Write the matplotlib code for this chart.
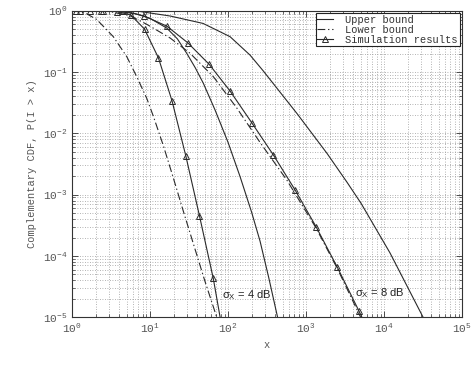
import numpy as np
import matplotlib
matplotlib.use("Agg")
import matplotlib.pyplot as plt
from matplotlib.lines import Line2D

# ---- data ----
# sigma_X = 4 dB
sim4_x = [1.12, 1.68, 2.52, 3.78, 5.67, 8.5, 12.8, 19.1, 28.7, 43.0, 64.6, 96.9]
sim4_y = [1.0, 1.0, 1.0, 0.97, 0.85, 0.50, 0.17, 0.034, 0.0043, 4.5e-4, 4.3e-5, 2.3e-6]
low4_x = [1.0, 1.47, 2.07, 3.38, 5.03, 6.75, 9.07, 11.0, 14.8, 19.9, 26.9, 35.9, 50.1, 71.6]
low4_y = [1.0, 0.92, 0.72, 0.377, 0.178, 0.0838, 0.0372, 0.0191, 6.3e-3, 1.86e-3,
          5.2e-4, 1.58e-4, 4.0e-5, 1.0e-5]
up4_x = [1.0, 3.56, 6.4, 10.0, 16.4, 22.4, 29.5, 38.0, 48.2, 68.1, 100.0, 142.6, 200.0,
         257.0, 331.0, 431.0]
up4_y = [1.0, 0.98, 0.9, 0.75, 0.52, 0.347, 0.202, 0.117, 0.0654, 0.024, 7.1e-3,
         1.96e-3, 5.2e-4, 1.74e-4, 4.5e-5, 1.0e-5]

# sigma_X = 8 dB
sim8_x = [1.26, 2.38, 4.5, 8.38, 16.4, 30.4, 57.1, 106, 201, 381, 723, 1343, 2520, 4740, 8960]
sim8_y = [1.0, 1.0, 0.99, 0.82, 0.56, 0.30, 0.134, 0.049, 0.0149, 0.00443, 0.00119,
          2.99e-4, 6.5e-5, 1.28e-5, 2.3e-6]
low8_x = [1.0, 3.0, 5.5, 9.07, 18.0, 32.6, 64.8, 129, 257, 566, 1343, 2520, 5000]
low8_y = [1.0, 0.97, 0.83, 0.6, 0.36, 0.202, 0.0838, 0.026, 7.1e-3, 1.73e-3,
          2.85e-4, 6.2e-5, 1.0e-5]
up8_x = [1.0, 7.45, 18.0, 47.8, 106, 191, 281, 767, 1860, 3360, 5070, 11900, 31600]
up8_y = [1.0, 0.97, 0.82, 0.62, 0.377, 0.189, 0.105, 0.0209, 4.68e-3, 1.58e-3,
         7.2e-4, 1.12e-4, 1.0e-5]

legend_labels = ["Upper bound", "Lower bound", "Simulation results"]
annot4 = r"$\sigma_X$ = 4 dB"
annot8 = r"$\sigma_X$ = 8 dB"

# ---- style ----
mono = ["Liberation Mono", "DejaVu Sans Mono"]
plt.rcParams["font.family"] = mono
plt.rcParams["mathtext.fontset"] = "custom"
plt.rcParams["mathtext.rm"] = "Liberation Mono"
plt.rcParams["mathtext.it"] = "Liberation Mono"
plt.rcParams["mathtext.default"] = "regular"

line_c = "#2a2a2a"
tick_c = "#555555"
dashdot = (0, (7, 2.5, 1.2, 2.5))

fig = plt.figure(figsize=(4.74, 3.74), dpi=100)
ax = fig.add_axes([0.152, 0.1516, 0.823, 0.8198])

for ux, uy in [(up4_x, up4_y), (up8_x, up8_y)]:
    ax.plot(ux, uy, color=line_c, lw=0.8, ls="-")
for lx, ly in [(low4_x, low4_y), (low8_x, low8_y)]:
    ax.plot(lx, ly, color=line_c, lw=0.8, ls=dashdot)
for sx, sy in [(sim4_x, sim4_y), (sim8_x, sim8_y)]:
    ax.plot(sx, sy, color=line_c, lw=0.8, ls="-", marker="^", markersize=5,
            markerfacecolor="none", markeredgecolor=line_c, markeredgewidth=0.7)

ax.set_xscale("log")
ax.set_yscale("log")
ax.set_xlim(1, 1e5)
ax.set_ylim(1e-5, 1)

ax.grid(True, which="both", linestyle=(0, (1, 2)), color="#9a9a9a", linewidth=0.6)
ax.set_axisbelow(True)

ax.tick_params(which="both", direction="in", top=True, right=True,
               colors="#333333", labelcolor=tick_c, labelsize=8)
ax.tick_params(which="major", length=4, width=0.6)
ax.tick_params(which="minor", length=2, width=0.5)
for s in ax.spines.values():
    s.set_color("#333333")
    s.set_linewidth(0.8)

ax.set_xlabel("x", fontsize=7.5, color=tick_c, labelpad=3)
ax.set_ylabel("Complementary CDF, P(I > x)", fontsize=7.5, color=tick_c, labelpad=4)

handles = [
    Line2D([], [], color=line_c, lw=0.8, ls="-"),
    Line2D([], [], color=line_c, lw=0.8, ls=dashdot),
    Line2D([], [], color=line_c, lw=0.8, ls="-", marker="^", markersize=5,
           markerfacecolor="none", markeredgecolor=line_c, markeredgewidth=0.7),
]
leg = ax.legend(handles, legend_labels, loc="upper right", fontsize=7.5,
                fancybox=False, framealpha=1, edgecolor="#222222",
                borderpad=0.15, labelspacing=0.0, handlelength=1.5,
                handletextpad=1.2, borderaxespad=0.25)
leg.get_frame().set_linewidth(0.8)
for t in leg.get_texts():
    t.set_color("#333333")

sans = ["Liberation Sans", "DejaVu Sans"]
ax.text(84, 2.3e-5, annot4, fontsize=8, family=sans, color="#222222",
        va="center", math_fontfamily="dejavusans")
ax.text(4250, 2.5e-5, annot8, fontsize=8, family=sans, color="#222222",
        va="center", math_fontfamily="dejavusans")

fig.savefig("out.png", dpi=100)
